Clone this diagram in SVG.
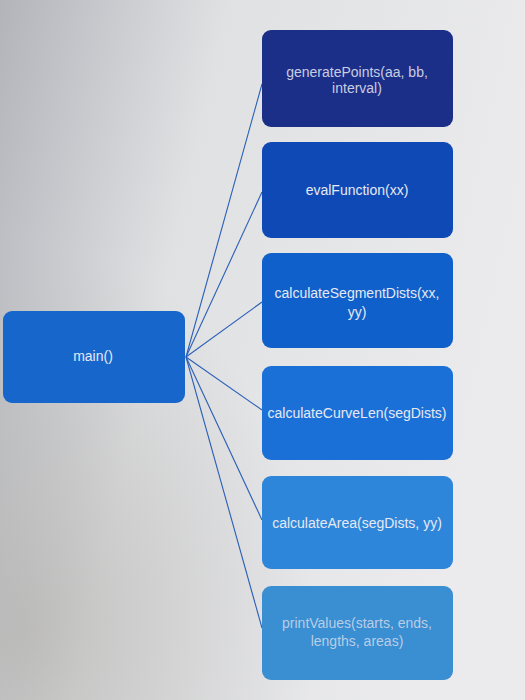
<svg xmlns="http://www.w3.org/2000/svg" width="525" height="700" viewBox="0 0 525 700">
<defs>
<linearGradient id="bg" x1="0" y1="0" x2="1" y2="0.3">
<stop offset="0" stop-color="#b2b4ba"/>
<stop offset="0.4" stop-color="#e0e1e3"/>
<stop offset="1" stop-color="#ebebee"/>
</linearGradient>
<radialGradient id="shade" cx="0.05" cy="0.9" r="0.55">
<stop offset="0" stop-color="#a8a6a2" stop-opacity="0.55"/>
<stop offset="1" stop-color="#a8a6a2" stop-opacity="0"/>
</radialGradient>
<style>
.box{rx:9;ry:9}
.t{font-family:"Liberation Sans","Open Sans",sans-serif;font-size:14px;fill:#e6e9f2;text-anchor:middle}
.c{stroke:#2a5fb8;stroke-width:1.1;fill:none}
</style>
</defs>
<rect width="525" height="700" fill="url(#bg)"/>
<rect width="525" height="700" fill="url(#shade)"/>
<g id="connectors">
<line class="c" x1="186" y1="357" x2="262" y2="84"/>
<line class="c" x1="186" y1="357" x2="262" y2="192"/>
<line class="c" x1="186" y1="357" x2="262" y2="302"/>
<line class="c" x1="186" y1="357" x2="262" y2="410"/>
<line class="c" x1="186" y1="357" x2="262" y2="520"/>
<line class="c" x1="186" y1="357" x2="262" y2="628"/>
</g>
<g id="main">
<rect class="box" x="3" y="311" width="182" height="92" fill="#1766cc"/>
<text class="t" x="93" y="361">main()</text>
</g>
<g id="generatePoints">
<rect class="box" x="262" y="30" width="191" height="97" fill="#1c2f88"/>
<text class="t" x="357" y="77" style="fill:#c9cde2">generatePoints(aa, bb,</text>
<text class="t" x="357" y="93" style="fill:#c9cde2">interval)</text>
</g>
<g id="evalFunction">
<rect class="box" x="262" y="142" width="191" height="96" fill="#0e49b6"/>
<text class="t" x="357" y="195">evalFunction(xx)</text>
</g>
<g id="calculateSegmentDists">
<rect class="box" x="262" y="253" width="191" height="95" fill="#0f60cb"/>
<text class="t" x="357" y="298">calculateSegmentDists(xx,</text>
<text class="t" x="357" y="317">yy)</text>
</g>
<g id="calculateCurveLen">
<rect class="box" x="262" y="366" width="191" height="94" fill="#1b70d8"/>
<text class="t" x="357" y="418">calculateCurveLen(segDists)</text>
</g>
<g id="calculateArea">
<rect class="box" x="262" y="476" width="191" height="93" fill="#2e86da"/>
<text class="t" x="357" y="528">calculateArea(segDists, yy)</text>
</g>
<g id="printValues">
<rect class="box" x="262" y="586" width="191" height="94" fill="#3a8ed2"/>
<text class="t" x="357" y="628" style="fill:#b9cde6">printValues(starts, ends,</text>
<text class="t" x="357" y="646" style="fill:#b9cde6">lengths, areas)</text>
</g>
</svg>
